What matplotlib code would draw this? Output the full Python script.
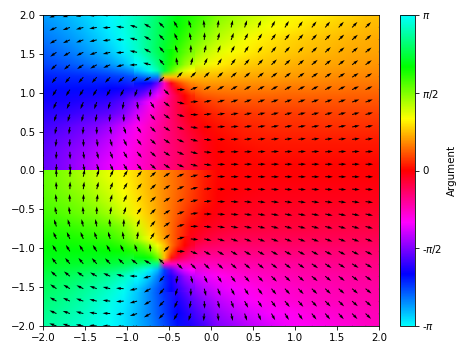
import matplotlib
matplotlib.use('Agg')
import matplotlib.pyplot as plt
from matplotlib.colors import LinearSegmentedColormap
import numpy as np

# argument, in degrees, one row per line of arrows
x_grid = np.linspace(-2, 2, 26)
y_upper = [2.0, 1.84, 1.68, 1.52, 1.36, 1.2, 1.04, 0.88, 0.72, 0.56, 0.4, 0.24, 0.08]
y_lower = [-0.08, -0.24, -0.4, -0.56, -0.72, -0.88, -1.04, -1.2, -1.36, -1.52, -1.68, -1.84, -2.0]

arg_upper = [
    [-157, -160, -164, -169, -174, -179, 173, 163, 152, 138, 124, 113, 103, 90, 84, 78, 73, 68, 63, 59, 57, 55, 52, 50, 47, 45],
    [-152, -156, -160, -165, -171, -177, 173, 162, 150, 135, 120, 108, 95, 83, 77, 71, 66, 61, 58, 55, 52, 50, 48, 46, 44, 43],
    [-147, -151, -155, -160, -166, -173, 176, 165, 150, 133, 115, 100, 87, 76, 70, 62, 57, 54, 51, 49, 47, 45, 44, 42, 41, 40],
    [-142, -145, -149, -154, -160, -167, -176, 168, 150, 130, 108, 90, 76, 68, 62, 57, 53, 50, 48, 46, 44, 43, 41, 40, 39, 38],
    [-136, -138, -141, -145, -150, -156, -165, -178, 165, 130, 100, 75, 65, 57, 53, 49, 47, 45, 43, 41, 40, 39, 38, 37, 36, 35],
    [-127, -128, -129, -130, -131, -133, -136, -142, -150, -135, 45, 45, 44, 43, 41, 40, 39, 38, 37, 36, 35, 34, 33, 32, 31, 31],
    [-122, -122, -122, -122, -122, -120, -117, -110, -95, -45, 0, 22, 29, 30, 30, 30, 29, 29, 28, 28, 28, 27, 27, 26, 26, 26],
    [-116, -115, -114, -112, -110, -107, -99, -82, -58, -37, -15, 6, 13, 17, 19, 20, 20, 20, 20, 20, 20, 20, 20, 20, 20, 20],
    [-110, -109, -107, -104, -101, -97, -88, -70, -50, -35, -17, -2, 5, 9, 11, 12, 13, 14, 14, 14, 14, 15, 15, 15, 15, 15],
    [-105, -102, -98, -94, -90, -82, -71, -56, -45, -33, -21, -9, 0, 4, 6, 8, 9, 10, 10, 10, 10, 11, 11, 11, 11, 11],
    [-101, -97, -93, -88, -82, -74, -64, -53, -43, -33, -23, -14, -5, 1, 3, 5, 6, 6, 7, 7, 7, 7, 7, 7, 7, 7],
    [-98, -93, -88, -83, -76, -69, -60, -51, -42, -33, -24, -15, -6, 0, 1, 2, 3, 4, 4, 4, 4, 4, 4, 4, 4, 4],
    [-96, -92, -86, -79, -72, -65, -58, -50, -42, -33, -24, -15, -7, -1, 0, 1, 1, 1, 1, 1, 1, 1, 1, 1, 1, 1],
]
arg_lower = [
    [96, 92, 86, 79, 72, 65, 58, 50, 42, 33, 24, 15, 7, 1, 0, -1, -1, -1, -1, -1, -1, -1, -1, -1, -1, -1],
    [98, 93, 88, 83, 76, 69, 60, 51, 42, 33, 24, 15, 6, 0, -1, -2, -3, -4, -4, -4, -4, -4, -4, -4, -4, -4],
    [101, 97, 93, 88, 82, 74, 64, 53, 43, 33, 23, 14, 5, -1, -3, -5, -6, -6, -7, -7, -7, -7, -7, -7, -7, -7],
    [105, 102, 98, 94, 90, 82, 71, 56, 45, 33, 21, 9, 0, -4, -6, -8, -9, -10, -10, -10, -10, -11, -11, -11, -11, -11],
    [110, 109, 107, 104, 101, 97, 88, 70, 50, 35, 17, 2, -5, -9, -11, -12, -13, -14, -14, -14, -14, -15, -15, -15, -15, -15],
    [116, 115, 114, 112, 110, 107, 99, 82, 58, 37, 15, -6, -13, -17, -19, -20, -20, -20, -20, -20, -20, -20, -20, -20, -20, -20],
    [122, 122, 122, 122, 122, 120, 117, 110, 95, 45, 0, -22, -29, -30, -30, -30, -29, -29, -28, -28, -28, -27, -27, -26, -26, -26],
    [127, 128, 129, 130, 131, 133, 136, 142, 150, 135, -45, -45, -44, -43, -41, -40, -39, -38, -37, -36, -35, -34, -33, -32, -31, -31],
    [136, 138, 141, 145, 150, 156, 165, 178, -165, -130, -100, -75, -65, -57, -53, -49, -47, -45, -43, -41, -40, -39, -38, -37, -36, -35],
    [142, 145, 149, 154, 160, 167, 176, -168, -150, -130, -108, -90, -76, -68, -62, -57, -53, -50, -48, -46, -44, -43, -41, -40, -39, -38],
    [147, 151, 155, 160, 166, 173, -176, -165, -150, -133, -115, -100, -87, -76, -70, -62, -57, -54, -51, -49, -47, -45, -44, -42, -41, -40],
    [152, 156, 160, 165, 171, 177, -173, -162, -150, -135, -120, -108, -95, -83, -77, -71, -66, -61, -58, -55, -52, -50, -48, -46, -44, -43],
    [157, 160, 164, 169, 174, 179, -173, -163, -152, -138, -124, -113, -103, -90, -84, -78, -73, -68, -63, -59, -57, -55, -52, -50, -47, -45],
]

# closer reading around the two points where all the colours meet
patch_upper = [
    [168, 159, 150, 140, 130, 119, 108, 99, 90],
    [175, 167, 157, 145, 132, 116, 103, 92, 83],
    [-178, 173, 165, 150, 130, 113, 100, 85, 75],
    [-165, -172, 175, 162, 135, 100, 80, 68, 60],
    [-142, -146, -150, -150, 45, 45, 45, 45, 45],
    [-125, -122, -115, -95, -45, -5, 15, 25, 32],
    [-110, -105, -95, -75, -45, -20, 0, 12, 22],
    [-100, -90, -78, -62, -45, -27, -12, 0, 10],
    [-82, -70, -58, -47, -37, -25, -15, -3, 6],
]
patch_lower = [
    [82, 70, 58, 47, 37, 25, 15, 3, -6],
    [100, 90, 78, 62, 45, 27, 12, 0, -10],
    [110, 105, 95, 75, 45, 20, 0, -12, -22],
    [125, 122, 115, 95, 45, 5, -15, -25, -32],
    [142, 146, 150, 150, -45, -45, -45, -45, -45],
    [165, 172, -175, -162, -135, -100, -80, -68, -60],
    [178, -173, -165, -150, -130, -113, -100, -85, -75],
    [-175, -167, -157, -145, -132, -116, -103, -92, -83],
    [-168, -159, -150, -140, -130, -119, -108, -99, -90],
]

tick_vals = [-np.pi, -np.pi / 2, 0, np.pi / 2, np.pi]
tick_labels = [r'-$\pi$', r'-$\pi/2$', '0', r'$\pi/2$', r'$\pi$']
hue_colors = ['#00ffff', '#0000ff', '#ff00ff', '#ff0000', '#ffff00', '#00ff00', '#00ffff']


def plot_field():
    cmap = LinearSegmentedColormap.from_list('arg', hue_colors, N=512)
    phase_up = np.deg2rad(arg_upper)
    phase_lo = np.deg2rad(arg_lower)

    fig = plt.figure(figsize=(474 / 74, 355 / 74), dpi=74)
    ax = fig.add_axes([43 / 474, 1 - 326 / 355, 336 / 474, 311 / 355])
    cax = fig.add_axes([400 / 474, 1 - 326 / 355, 15 / 474, 311 / 355])

    # one image per half plane so the cut along y=0 stays sharp
    opts = dict(cmap=cmap, vmin=-np.pi, vmax=np.pi, aspect='auto', interpolation='bilinear',
                interpolation_stage='rgba')
    im = ax.imshow(phase_up, extent=(-2.08, 2.08, 0, 2.08), **opts)
    ax.imshow(phase_lo, extent=(-2.08, 2.08, -2.08, 0), **opts)
    ax.imshow(np.deg2rad(patch_upper), extent=(-0.92, -0.2, 0.84, 1.56), **opts)
    ax.imshow(np.deg2rad(patch_lower), extent=(-0.92, -0.2, -1.56, -0.84), **opts)

    xx, yy = np.meshgrid(x_grid, np.array(y_upper + y_lower))
    phase = np.vstack([phase_up, phase_lo])
    ax.quiver(xx, yy, np.cos(phase), np.sin(phase), color='black', scale=44, width=0.003)
    ax.set_xlim(-2, 2)
    ax.set_ylim(-2, 2)
    ax.set_xticks(np.arange(-2, 2.5, 0.5))
    ax.set_yticks(np.arange(-2, 2.5, 0.5))

    clb = fig.colorbar(im, cax=cax)
    clb.set_ticks(tick_vals)
    clb.set_ticklabels(tick_labels)
    clb.set_label('Argument')
    fig.savefig('out.png', dpi=74)


if __name__ == '__main__':
    plot_field()
